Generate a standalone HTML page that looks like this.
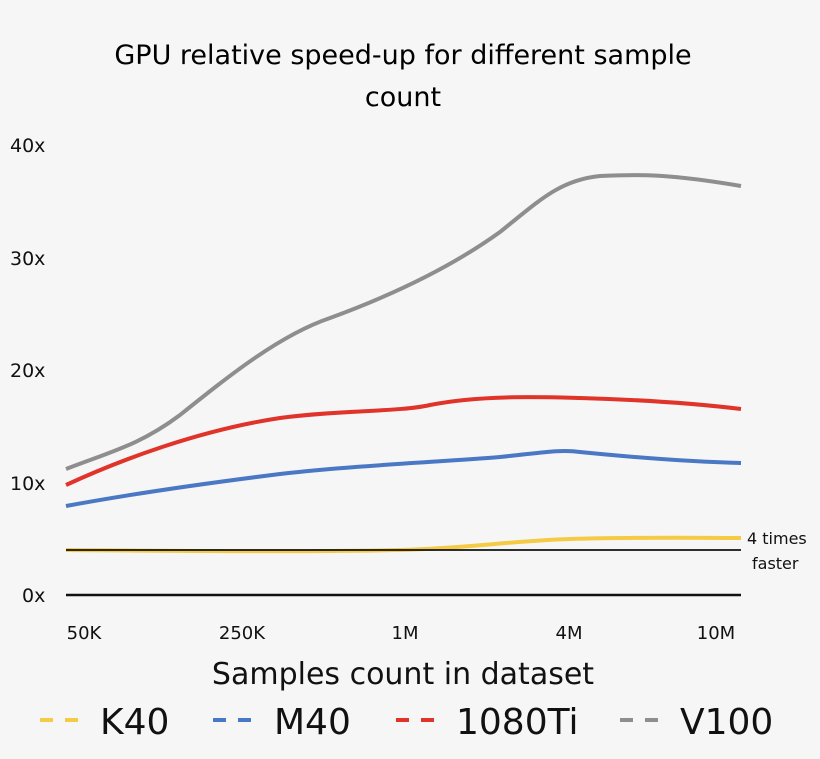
<!DOCTYPE html>
<html><head><style>
body{margin:0;background:#f6f6f6;}
text{font-family:"DejaVu Sans","Liberation Sans",sans-serif;fill:#111;}
</style></head><body>
<svg width="820" height="754" xmlns="http://www.w3.org/2000/svg">
<rect width="820" height="754" fill="#f6f6f6"/>
<text x="403" y="64" font-size="27" text-anchor="middle" style="fill:#000">GPU  relative speed-up for different sample</text>
<text x="403" y="106" font-size="27" text-anchor="middle" style="fill:#000">count</text>
<g font-size="19">
<text x="10" y="152">40x</text>
<text x="10" y="265">30x</text>
<text x="10" y="377">20x</text>
<text x="10" y="490">10x</text>
<text x="22" y="602">0x</text>
</g>
<g font-size="18" text-anchor="middle">
<text x="84" y="639">50K</text>
<text x="242" y="639">250K</text>
<text x="405" y="639">1M</text>
<text x="569" y="639">4M</text>
<text x="716" y="639">10M</text>
</g>
<line x1="66" y1="595" x2="741" y2="595" stroke="#111" stroke-width="2.5"/>
<path d="M66,550 C200,551 300,552 400,550 C470,548 510,541 570,539 C640,537 700,538 741,538" fill="none" stroke="#f5cb45" stroke-width="4"/>
<line x1="66" y1="550" x2="741" y2="550" stroke="#111" stroke-width="1.8"/>
<path d="M66,506 C120,496 200,484 280,474 C360,465 440,462 500,457 C540,453 560,449 580,452 C640,458 700,462 741,463" fill="none" stroke="#4a78c4" stroke-width="4"/>
<path d="M66,485 C120,460 200,430 280,418 C340,410 400,412 430,405 C480,395 540,397 580,398 C650,400 700,404 741,409" fill="none" stroke="#e0342a" stroke-width="4"/>
<path d="M66,469 C110,452 140,445 180,415 C230,375 280,335 330,318 C390,296 450,268 500,232 C540,200 560,180 600,176 C640,174 670,174 741,186" fill="none" stroke="#8e8e8e" stroke-width="4"/>
<text x="747" y="544" font-size="16">4 times</text>
<text x="752" y="569" font-size="16">faster</text>
<text x="403" y="684" font-size="30" text-anchor="middle">Samples count in dataset</text>
<g stroke-width="4">
<line x1="40" y1="720" x2="78" y2="720" stroke="#f5cb45" stroke-dasharray="13,12"/>
<line x1="213" y1="720" x2="251" y2="720" stroke="#4a78c4" stroke-dasharray="13,12"/>
<line x1="396" y1="720" x2="434" y2="720" stroke="#e0342a" stroke-dasharray="13,12"/>
<line x1="620" y1="720" x2="658" y2="720" stroke="#8e8e8e" stroke-dasharray="13,12"/>
</g>
<g font-size="36">
<text x="100" y="734">K40</text>
<text x="274" y="734">M40</text>
<text x="456" y="734">1080Ti</text>
<text x="680" y="734">V100</text>
</g>
</svg>
</body></html>
